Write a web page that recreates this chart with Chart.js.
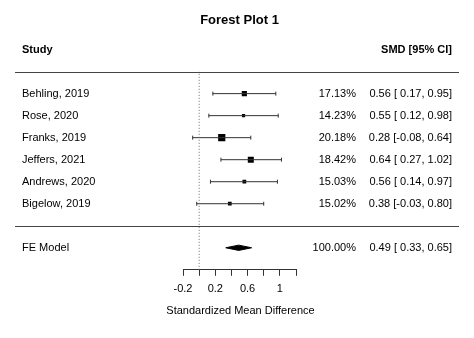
<!DOCTYPE html>
<html>
<head>
<meta charset="utf-8">
<script src="https://cdn.jsdelivr.net/npm/chart.js@4.4.1/dist/chart.umd.min.js"></script>
<style>
  body { margin: 0; background: #fff; }
  #wrap { width: 474px; height: 338px; position: relative; }
</style>
</head>
<body>
<div id="wrap"><canvas id="chart"></canvas></div>
<script>
// Study data
const studies = ['Behling, 2019', 'Rose, 2020', 'Franks, 2019', 'Jeffers, 2021', 'Andrews, 2020', 'Bigelow, 2019'];
const smd = [0.56, 0.55, 0.28, 0.64, 0.56, 0.38];
const ciLow = [0.17, 0.12, -0.08, 0.27, 0.14, -0.03];
const ciHigh = [0.95, 0.98, 0.64, 1.02, 0.97, 0.80];
const weights = [17.13, 14.23, 20.18, 18.42, 15.03, 15.02];

// Pooled fixed-effect estimate
const feLabel = 'FE Model';
const feEst = 0.49;
const feLow = 0.33;
const feHigh = 0.65;
const feWeight = 100.00;

// Axis ticks and labelled ticks
const tickValues = [-0.2, 0, 0.2, 0.4, 0.6, 0.8, 1.0, 1.2];
const tickLabels = ['-0.2', '', '0.2', '', '0.6', '', '1', ''];
const xTitle = 'Standardized Mean Difference';

// Row positions: studies top-down, pooled row below the separator
const rows = studies.map((s, i) => studies.length - i);
const feRow = -1;
const headerRow = rows[0] + 2;
const topRule = rows[0] + 1;
const bottomRule = 0;

const FONT = '"Liberation Sans", Arial, sans-serif';

// Square size grows with study weight
const wMin = Math.min(...weights);
const wMax = Math.max(...weights);
const squareRadius = weights.map(w => (3.2 + 4 * (w - wMin) / (wMax - wMin)) / Math.SQRT2);

// CI segments, separated by gaps
const ciData = [];
studies.forEach((s, i) => {
    ciData.push({ x: ciLow[i], y: rows[i] });
    ciData.push({ x: ciHigh[i], y: rows[i] });
    ciData.push({ x: null, y: null });
});

// Summary diamond
const dh = 0.12;
const diamondData = [
    { x: feLow, y: feRow },
    { x: feEst, y: feRow + dh },
    { x: feHigh, y: feRow },
    { x: feEst, y: feRow - dh },
    { x: feLow, y: feRow }
];

function padCol(values) {
    const strs = values.map(v => v.toFixed(2));
    const width = Math.max(...strs.map(s => s.length));
    return strs.map(s => s.padStart(width, ' '));
}

const allLow = padCol(ciLow.concat([feLow]));
const allHigh = padCol(ciHigh.concat([feHigh]));
const allEst = smd.concat([feEst]).map(v => v.toFixed(2));
const ciText = allEst.map((e, i) => `${e} [${allLow[i]}, ${allHigh[i]}]`);
const weightText = weights.concat([feWeight]).map(w => w.toFixed(2) + '%');

// Draws the table text, separator rules and axis caption around the plot
const tablePlugin = {
    id: 'forestTable',
    afterDraw(chart) {
        const ctx = chart.ctx;
        const y = chart.scales.y;
        const area = chart.chartArea;
        const left = 15, right = 459;
        const nameX = 22, weightX = 356, ciX = 452;

        ctx.save();
        ctx.strokeStyle = '#444';
        ctx.lineWidth = 1;
        [topRule, bottomRule].forEach(r => {
            const py = Math.round(y.getPixelForValue(r)) + 0.5;
            ctx.beginPath();
            ctx.moveTo(left, py);
            ctx.lineTo(right, py);
            ctx.stroke();
        });

        ctx.fillStyle = '#000';
        ctx.textBaseline = 'middle';

        const hy = y.getPixelForValue(headerRow);
        ctx.font = 'bold 11px ' + FONT;
        ctx.textAlign = 'left';
        ctx.fillText('Study', nameX, hy);
        ctx.textAlign = 'right';
        ctx.fillText('SMD [95% CI]', ciX, hy);

        ctx.font = '11px ' + FONT;
        const names = studies.concat([feLabel]);
        const allRows = rows.concat([feRow]);
        names.forEach((n, i) => {
            const py = y.getPixelForValue(allRows[i]);
            ctx.textAlign = 'left';
            ctx.fillText(n, nameX, py);
            ctx.textAlign = 'right';
            ctx.fillText(weightText[i], weightX, py);
            ctx.fillText(ciText[i], ciX, py);
        });

        // axis caption, centred under the plot without width squeeze
        ctx.textAlign = 'center';
        ctx.fillText(xTitle, (area.left + area.right) / 2 + 1, area.bottom + 41);
        ctx.restore();
    }
};

const chart = new Chart(document.getElementById('chart'), {
    type: 'scatter',
    data: {
        datasets: [
            {
                // reference line at zero
                type: 'line',
                data: [{ x: 0, y: -2 }, { x: 0, y: topRule }],
                borderColor: '#666',
                borderWidth: 1,
                borderDash: [1, 2],
                pointRadius: 0,
                fill: false
            },
            {
                type: 'line',
                data: ciData,
                borderColor: '#333',
                borderWidth: 1,
                spanGaps: false,
                pointStyle: 'line',
                rotation: 90,
                pointRadius: 2,
                pointBorderColor: '#333',
                pointBorderWidth: 1,
                fill: false
            },
            {
                data: rows.map((r, i) => ({ x: smd[i], y: r })),
                pointStyle: 'rect',
                pointRadius: squareRadius,
                backgroundColor: '#000',
                borderWidth: 0
            },
            {
                type: 'line',
                data: diamondData,
                borderColor: '#000',
                backgroundColor: '#000',
                borderWidth: 1,
                pointRadius: 0,
                tension: 0,
                fill: 'shape'
            }
        ]
    },
    options: {
        responsive: true,
        maintainAspectRatio: false,
        animation: false,
        events: [],
        layout: {
            padding: { left: 183, right: 178, top: 0, bottom: 35 }
        },
        plugins: {
            legend: { display: false },
            tooltip: { enabled: false },
            title: {
                display: true,
                text: 'Forest Plot 1',
                color: '#000',
                font: { family: FONT, size: 13, weight: 'bold' },
                padding: { top: 13, bottom: 43 }
            }
        },
        scales: {
            x: {
                type: 'linear',
                min: tickValues[0],
                max: tickValues[tickValues.length - 1],
                afterBuildTicks: (axis) => {
                    axis.ticks = tickValues.map(v => ({ value: v }));
                },
                ticks: {
                    autoSkip: false,
                    maxRotation: 0,
                    color: '#000',
                    padding: 7,
                    font: { family: FONT, size: 11 },
                    callback: (value, index) => tickLabels[index]
                },
                grid: {
                    drawOnChartArea: false,
                    drawTicks: true,
                    tickLength: 6,
                    color: '#333'
                },
                border: { display: true, color: '#333', width: 1 }
            },
            y: {
                type: 'linear',
                min: -2,
                max: topRule,
                display: false
            }
        }
    },
    plugins: [tablePlugin]
});
</script>
</body>
</html>
